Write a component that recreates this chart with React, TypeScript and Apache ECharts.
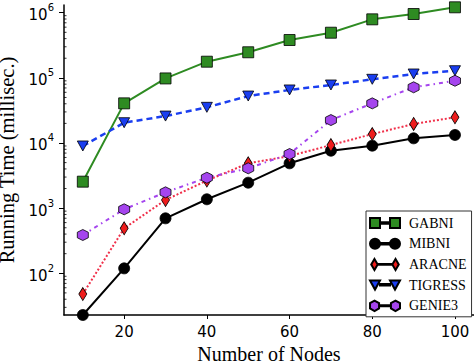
import React, { useEffect, useRef } from "react";
import * as echarts from "echarts";

const nodes = [10, 20, 30, 40, 50, 60, 70, 80, 90, 100];
const gabni = [2550, 40600, 98000, 177000, 247000, 381000, 493000, 791000, 955000, 1210000];
const mibni = [22.9, 119, 698, 1368, 2460, 4880, 7620, 9100, 11800, 13300];
const aracne = [48, 491, 1334, 2650, 4880, 6300, 9300, 13700, 19600, 24800];
const tigress = [9000, 20500, 25900, 35300, 52600, 65200, 77700, 95000, 114600, 128800];
const genie3 = [387, 960, 1750, 2930, 4090, 6780, 22500, 40600, 71600, 90300];

const xTicks = [20, 40, 60, 80, 100];
const yTicks = [100, 1000, 10000, 100000, 1000000];
const yMinorTicks = [
  30, 40, 50, 60, 70, 80, 90,
  200, 300, 400, 500, 600, 700, 800, 900,
  2000, 3000, 4000, 5000, 6000, 7000, 8000, 9000,
  20000, 30000, 40000, 50000, 60000, 70000, 80000, 90000,
  200000, 300000, 400000, 500000, 600000, 700000, 800000, 900000,
];

const X_MIN = 5.45;
const X_MAX = 104.6;
const Y_MIN = 22.9;
const Y_MAX = 1313000;

const HEX = "path://M5,0L9.33,2.5L9.33,7.5L5,10L0.67,7.5L0.67,2.5Z";

export default function App() {
  const ref = useRef<HTMLDivElement>(null);
  useEffect(() => {
    document.body.style.margin = "0";
    const chart = echarts.init(ref.current!, null, { renderer: "svg" });
    const pair = (ys: number[]) => nodes.map((x, i) => [x, ys[i]]);
    const edge = { borderColor: "#000", borderWidth: 0.8 };
    chart.setOption({
      animation: false,
      backgroundColor: "#fff",
      grid: { left: 64, right: 0, top: 5, bottom: 48, containLabel: false, outerBoundsMode: "none" },
      xAxis: {
        type: "value",
        min: X_MIN,
        max: X_MAX,
        name: "Number of Nodes",
        nameLocation: "middle",
        nameGap: 28,
        nameTextStyle: { fontFamily: "Liberation Serif", fontSize: 20, lineHeight: 20, color: "#000", verticalAlign: "top" },
        axisLine: { show: true, lineStyle: { color: "#000", width: 1.5 } },
        axisTick: { show: true, customValues: xTicks, length: 4, lineStyle: { color: "#000", width: 1 } },
        axisLabel: {
          customValues: xTicks,
          margin: 9,
          fontFamily: "DejaVu Sans",
          fontSize: 15,
          color: "#000",
        },
        splitLine: { show: false },
      },
      yAxis: {
        type: "log",
        logBase: 10,
        min: Y_MIN,
        max: Y_MAX,
        name: "Running Time (millisec.)",
        nameLocation: "middle",
        nameGap: 42,
        nameTextStyle: { fontFamily: "Liberation Serif", fontSize: 20.5, lineHeight: 21, color: "#000" },
        axisLine: { show: true, lineStyle: { color: "#000", width: 1.5 } },
        axisTick: { show: true, customValues: yTicks, length: 5, lineStyle: { color: "#000", width: 1 } },
        axisLabel: {
          customValues: yTicks,
          margin: 10,
          formatter: (v: number) => `{b|10}{e|${Math.round(Math.log10(v))}}`,
          rich: {
            b: { fontFamily: "DejaVu Sans", fontSize: 15, color: "#000", verticalAlign: "bottom", lineHeight: 20 },
            e: { fontFamily: "DejaVu Sans", fontSize: 10, color: "#000", verticalAlign: "top", lineHeight: 20 },
          },
        },
        splitLine: { show: false },
        minorTick: { show: false },
      },
      legend: {
        orient: "vertical",
        left: 366,
        top: 211,
        padding: [5, 5, 4, 3],
        itemWidth: 30,
        itemHeight: 11,
        itemGap: 6.7,
        backgroundColor: "#fff",
        borderColor: "#333",
        borderWidth: 1,
        borderRadius: 0,
        textStyle: { fontFamily: "Liberation Serif", fontSize: 14, color: "#000", padding: [0, 0, 0, 4] },
        data: [
          { name: "GABNI", icon: "path://M0,0H10V10H0Z M10,4.3H20V5.7H10Z M20,0H30V10H20Z" },
          { name: "MIBNI", icon: "path://M0,5A5,5 0 1,0 10,5A5,5 0 1,0 0,5Z M10,4.3H20V5.7H10Z M20,5A5,5 0 1,0 30,5A5,5 0 1,0 20,5Z" },
          { name: "ARACNE", icon: "path://M3.5,0L7,6L3.5,12L0,6Z M7,5.5H23V6.5H7Z M26.5,0L30,6L26.5,12L23,6Z" },
          { name: "TIGRESS", icon: "path://M0,0H10L5,9Z M10,3.5H20V4.8H10Z M20,0H30L25,9Z" },
          { name: "GENIE3", icon: "path://M5,0L9.33,2.5L9.33,7.5L5,10L0.67,7.5L0.67,2.5Z M10,4.5H20V5.5H10Z M25,0L29.33,2.5L29.33,7.5L25,10L20.67,7.5L20.67,2.5Z" },
        ],
      },
      series: [
        {
          name: "GABNI",
          type: "line",
          data: pair(gabni),
          symbol: "rect",
          symbolSize: 11,
          lineStyle: { color: "#2e8b22", width: 2 },
          itemStyle: { color: "#2e8b22", ...edge },
        },
        {
          name: "MIBNI",
          type: "line",
          data: pair(mibni),
          symbol: "circle",
          symbolSize: 11,
          lineStyle: { color: "#000", width: 2 },
          itemStyle: { color: "#000", ...edge },
        },
        {
          name: "ARACNE",
          type: "line",
          data: pair(aracne),
          symbol: "diamond",
          symbolSize: [8, 13],
          lineStyle: { color: "#f0304a", width: 2, type: [2, 2] },
          itemStyle: { color: "#ee1c1c", ...edge },
        },
        {
          name: "TIGRESS",
          type: "line",
          data: pair(tigress),
          symbol: "triangle",
          symbolRotate: 180,
          symbolSize: [11, 10],
          lineStyle: { color: "#1a3ef0", width: 2.5, type: [6, 4] },
          itemStyle: { color: "#1a3ef0", ...edge },
        },
        {
          name: "GENIE3",
          type: "line",
          data: pair(genie3),
          symbol: HEX,
          symbolSize: 11,
          lineStyle: { color: "#a545ee", width: 2, type: [4, 4, 1.5, 4] },
          itemStyle: { color: "#a545ee", ...edge },
        },
        {
          name: "minorTicks",
          type: "custom",
          silent: true,
          clip: false,
          data: yMinorTicks.map((v) => [X_MIN, v]),
          renderItem: (_p: any, api: any) => {
            const pt = api.coord([api.value(0), api.value(1)]);
            return {
              type: "line",
              shape: { x1: pt[0], y1: pt[1], x2: pt[0] + 2.5, y2: pt[1] },
              style: { stroke: "#000", lineWidth: 0.8 },
            };
          },
        },
      ],
    });
    return () => chart.dispose();
  }, []);
  return <div ref={ref} style={{ width: 474, height: 363 }} />;
}
